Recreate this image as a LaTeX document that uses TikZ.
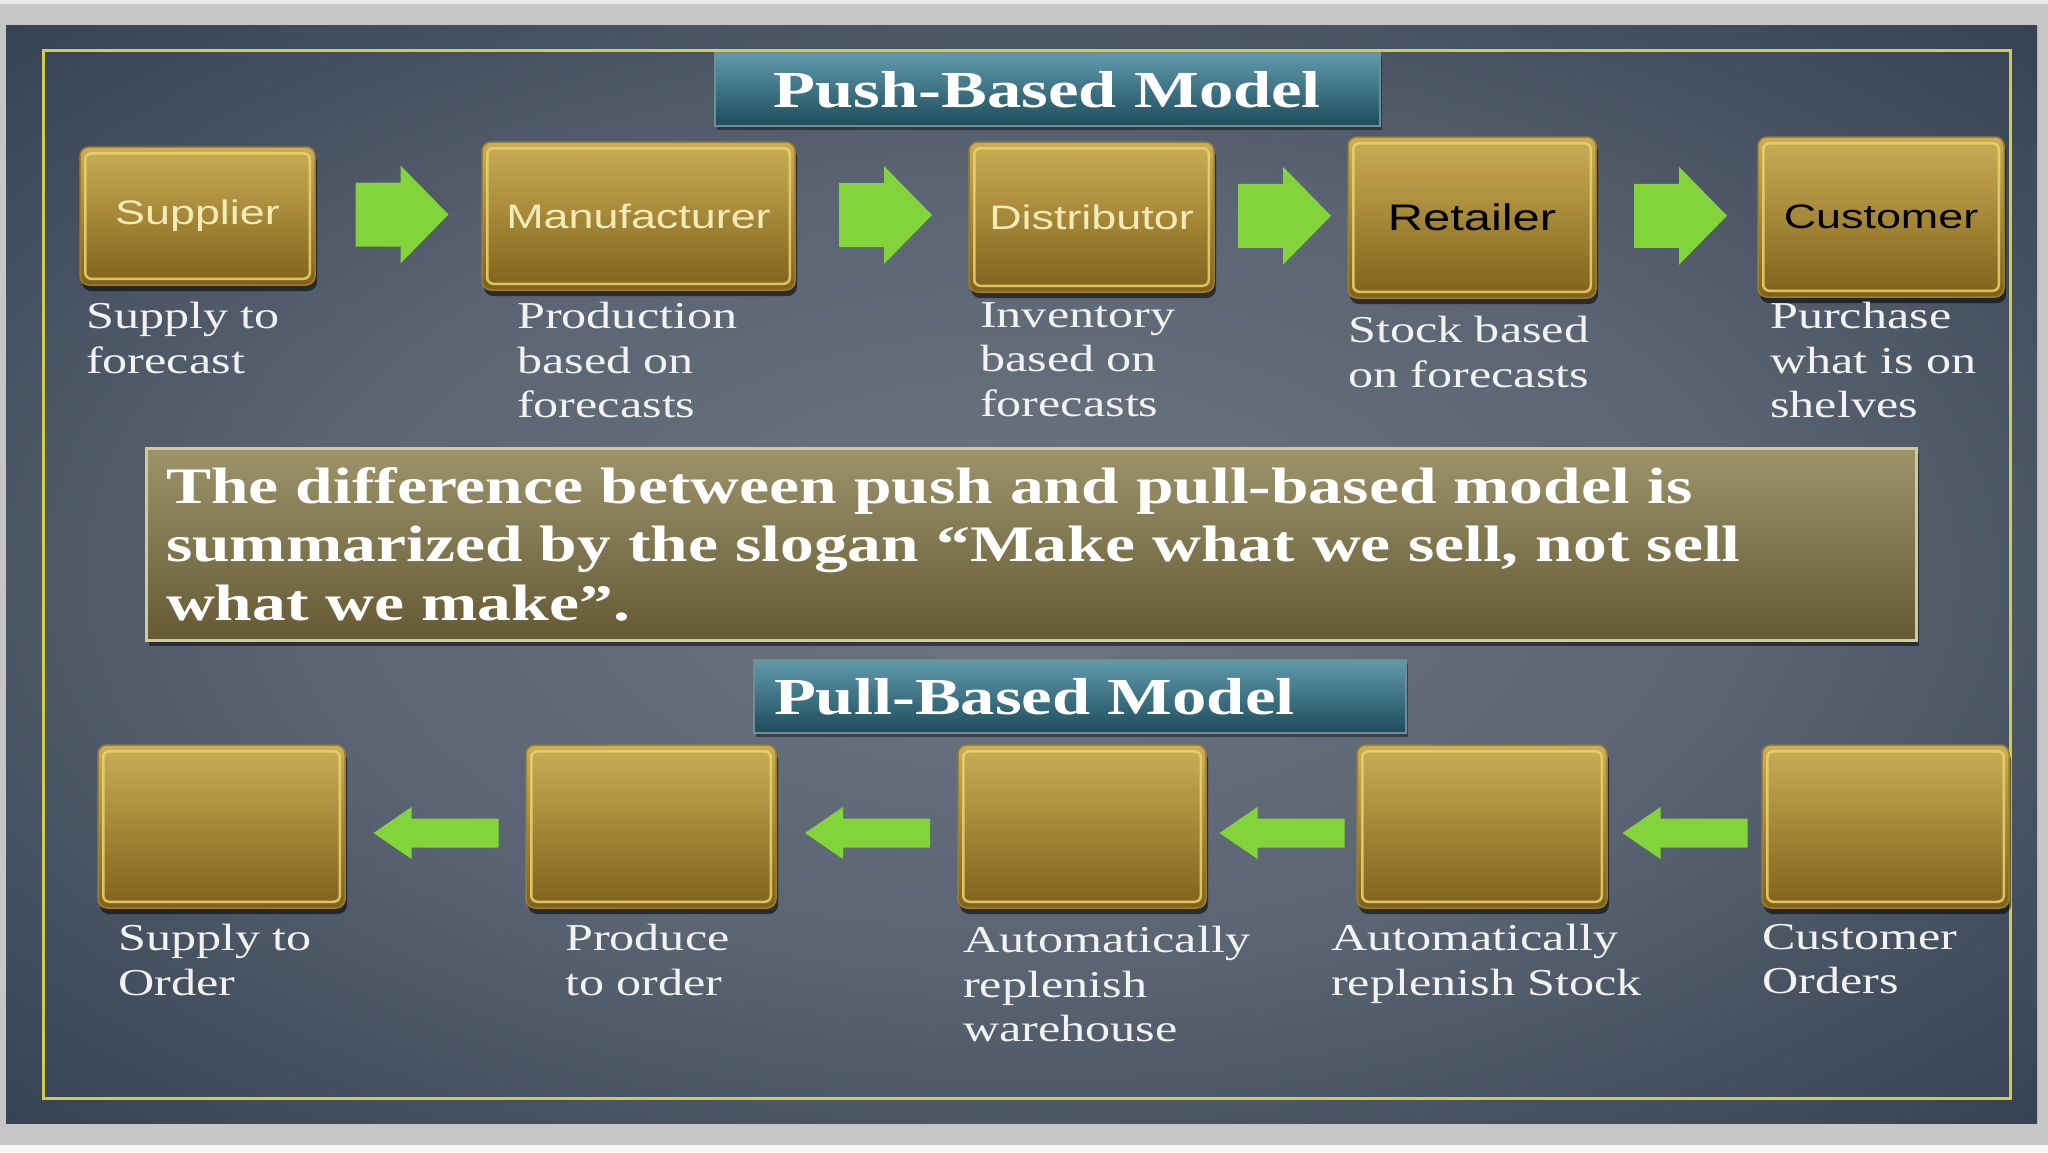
\documentclass[tikz,border=0pt]{standalone}
\usepackage{fontspec}
\newfontfamily\lblfont[FakeStretch=1.32]{Liberation Serif}
\newfontfamily\boxfont[FakeStretch=1.32]{Liberation Sans}
\usetikzlibrary{calc,shadows}
\definecolor{outergray}{HTML}{C6C6C6}
\definecolor{pcA}{HTML}{6D7682}
\definecolor{pcB}{HTML}{5A6472}
\definecolor{pcC}{HTML}{3F4A5A}
\definecolor{pcD}{HTML}{283647}
\definecolor{pcE}{HTML}{1C2A3B}
\definecolor{frameyellow}{HTML}{D2CC4E}
\definecolor{tealtop}{HTML}{5F9AAD}
\definecolor{tealbot}{HTML}{1E4C5B}
\definecolor{tealedge}{HTML}{6F8F98}
\definecolor{goldtop}{HTML}{CBAE55}
\definecolor{goldbot}{HTML}{80611B}
\definecolor{goldedge}{HTML}{9C7E2E}
\definecolor{goldrim}{HTML}{EAD56E}
\definecolor{khakitop}{HTML}{9D946A}
\definecolor{khakimid}{HTML}{807650}
\definecolor{khakibot}{HTML}{655A34}
\definecolor{khakiedge}{HTML}{CFCB9E}
\definecolor{arrowgreen}{HTML}{82D43A}
\definecolor{cream}{HTML}{F4EBB6}
\definecolor{lbl}{HTML}{F2F2F2}
\pgfdeclareradialshading{panelshade}{\pgfpoint{0bp}{0bp}}{color(0bp)=(pcA); color(18bp)=(pcB); color(31bp)=(pcC); color(43bp)=(pcD); color(54bp)=(pcE); color(75bp)=(pcE)}
\tikzset{
  goldbox/.style={rounded corners=9pt, top color=goldtop, bottom color=goldbot,
    draw=goldedge, line width=1.5pt, inner sep=0pt,
    drop shadow={shadow xshift=2pt, shadow yshift=-6pt, fill=black, opacity=0.55}},
  boxtext/.style={font=\boxfont\fontsize{34}{40}\selectfont},
  titlebox/.style={top color=tealtop, bottom color=tealbot, draw=tealedge, line width=2pt,
    font=\lblfont\bfseries\fontsize{52}{60}\selectfont, text=white,
    drop shadow={shadow xshift=2pt, shadow yshift=-4pt, fill=black, opacity=0.4}},
  lab/.style={anchor=north west, inner sep=0pt, align=left, text=lbl,
    font=\lblfont\fontsize{38}{44.5}\selectfont},
  garrow/.style={fill=arrowgreen},
  rim/.style={draw=goldrim, line width=2.5pt, rounded corners=6pt, opacity=0.85}
}
\begin{document}
\begin{tikzpicture}[x=1pt,y=-1pt]
\useasboundingbox (0,0) rectangle (2048,1152);
% background
\fill[outergray] (0,0) rectangle (2048,1152);
\fill[white!85!outergray] (0,1145) rectangle (2048,1152);
\fill[white!60!outergray] (0,0) rectangle (2048,4);
% panel
\shade[shading=panelshade] (6,25) rectangle (2037,1123);
\draw[frameyellow, line width=3pt] (43,50) rectangle (2010,1098);

% titles
\node[titlebox, minimum width=665pt, minimum height=73pt] (pusht) at (1047.5,89.5) {Push-Based Model};
\node[titlebox, minimum height=73pt, text width=612pt, inner xsep=20pt, align=left] (pullt) at (1080,696.5) {Pull-Based Model};

% push boxes
\node[goldbox, boxtext, text=cream, minimum width=235pt, minimum height=138pt] (sup) at (197.5,216) {Supplier};
\node[goldbox, boxtext, text=cream, minimum width=313pt, minimum height=148pt] (man) at (638.5,216) {Manufacturer};
\node[goldbox, boxtext, text=cream, minimum width=245pt, minimum height=150pt] (dis) at (1091.5,217) {Distributor};
\node[goldbox, font=\boxfont\fontsize{37}{42}\selectfont, text=black, minimum width=248pt, minimum height=161pt] (ret) at (1472,217.5) {Retailer};
\node[goldbox, boxtext, text=black, minimum width=246pt, minimum height=160pt] (cus) at (1881,217) {Customer};

% pull boxes
\node[goldbox, minimum width=247pt, minimum height=163pt] (pa) at (221.5,826.5) {};
\node[goldbox, minimum width=250pt, minimum height=163pt] (pb) at (651,826.5) {};
\node[goldbox, minimum width=248pt, minimum height=163pt] (pc) at (1082,826.5) {};
\node[goldbox, minimum width=250pt, minimum height=163pt] (pd) at (1482,826.5) {};
\node[goldbox, minimum width=247pt, minimum height=163pt] (pe) at (1885.5,826.5) {};

% bevel rims
\foreach \n in {sup,man,dis,ret,cus,pa,pb,pc,pd,pe}{
  \draw[rim] ([shift={(6,7)}]\n.north west) rectangle ([shift={(-6,-7)}]\n.south east);
}

% push arrows
\foreach \a/\b in {sup/man,man/dis,dis/ret,ret/cus}{
  \path ($(\a.east)!0.5!(\b.west)$) coordinate (m);
  \fill[garrow, shift={(m)}, yshift=1.5pt, xshift=3pt] (47,0) -- (-1,-49) -- (-1,-32) -- (-46,-32) -- (-46,32) -- (-1,32) -- (-1,49) -- cycle;
}
% pull arrows
\foreach \a/\b in {pb/pa,pc/pb,pd/pc,pe/pd}{
  \path ($(\a.west)!0.5!(\b.east)$) coordinate (m);
  \fill[garrow, shift={(m)}, yshift=-6.5pt] (-62,0) -- (-24,-26) -- (-24,-14.5) -- (63,-14.5) -- (63,14.5) -- (-24,14.5) -- (-24,26) -- cycle;
}

% summary box
\node[top color=khakitop, bottom color=khakibot, middle color=khakimid, draw=khakiedge, line width=3pt,
  minimum width=1770pt, minimum height=192pt, text width=1730pt, inner xsep=20pt, align=left,
  text=white, font=\lblfont\bfseries\fontsize{51.2}{58.5}\selectfont,
  drop shadow={shadow xshift=3pt, shadow yshift=-6pt, fill=black, opacity=0.5}] (sum) at (1031,544)
  {The difference between push and pull-based model is\\summarized by the slogan “Make what we sell, not sell\\what we make”.};

% push labels
\node[lab] (lsup) at (86,302) {Supply to\\forecast};
\node[lab] (lman) at (517,302) {Production\\based on\\forecasts};
\node[lab] (ldis) at (980,302) {Inventory\\based on\\forecasts};
\node[lab] (lret) at (1348,316) {Stock based\\on forecasts};
\node[lab] (lcus) at (1770,302) {Purchase\\what is on\\shelves};

% pull labels
\node[lab] (lpa) at (118,924) {Supply to\\Order};
\node[lab] (lpb) at (565,924) {Produce\\to order};
\node[lab] (lpc) at (963,926) {Automatically\\replenish\\warehouse};
\node[lab] (lpd) at (1331,924) {Automatically\\replenish Stock};
\node[lab] (lpe) at (1762,924) {Customer\\Orders};
\end{tikzpicture}
\end{document}
